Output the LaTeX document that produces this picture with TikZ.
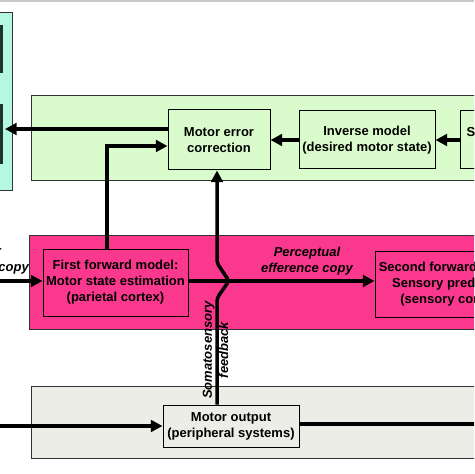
\documentclass[tikz,border=0pt]{standalone}
\usepackage{fontspec}
\setmainfont{Liberation Sans}
\usetikzlibrary{arrows.meta}
\definecolor{cyanpanel}{RGB}{180,248,226}
\definecolor{greenpanel}{RGB}{218,252,204}
\definecolor{pinkpanel}{RGB}{250,56,142}
\definecolor{graypanel}{RGB}{236,237,231}
\definecolor{topstrip}{RGB}{200,200,200}
\definecolor{darkbar}{RGB}{28,52,44}
\definecolor{panelline}{RGB}{50,50,50}
\newcommand{\diagfont}{\fontsize{11.1}{13.7}\selectfont}
\begin{document}
\begin{tikzpicture}[x=0.3mm, y=-0.3mm, font=\diagfont\bfseries, line join=miter,
    box/.style={draw, line width=0.3mm, align=center, inner sep=0pt},
    panel/.style={draw=panelline, line width=0.3mm},
    flow/.style={line width=1.05mm, -{Triangle[length=3.5mm, width=3.5mm]}},
    note/.style={font=\diagfont\bfseries\itshape, align=center, inner sep=0pt}]
    \useasboundingbox (0,0) rectangle (474,474);
    \clip (0,0) rectangle (474,474);
    \fill[white] (0,0) rectangle (474,474);
    \fill[topstrip] (0,0) rectangle (474,2.5);

    % Left panel
    \filldraw[panel, fill=cyanpanel] (-10,13) rectangle (12,191);
    \fill[darkbar] (-5,25) rectangle (3,73);
    \fill[darkbar] (-5,104) rectangle (3,164);

    % Green panel
    \filldraw[panel, fill=greenpanel] (31,96) rectangle (490,181);
    \node[box, fill=greenpanel, minimum width=30.6mm, minimum height=18mm] (err) at (219,140) {Motor error\\correction};
    \node[box, fill=greenpanel, minimum width=40.8mm, minimum height=17.4mm] (inv) at (367,140) {Inverse model\\(desired motor state)};
    \node[box, fill=greenpanel, anchor=west, align=left, text width=37.2mm, inner xsep=1.8mm, minimum height=17.4mm] (goal) at (460,140) {Sensory goal\\\mbox{}};

    % Pink panel
    \filldraw[panel, fill=pinkpanel] (29,235) rectangle (490,329);
    \node[box, minimum width=43.5mm, minimum height=20.1mm] (ffm) at (115.5,282.5) {First forward model:\\Motor state estimation\\(parietal cortex)};
    \node[box, minimum width=45.6mm, minimum height=19.8mm] (sfm) at (451,284) {Second forward model:\\Sensory prediction\\(sensory cortex)};

    % Gray panel
    \filldraw[panel, fill=graypanel] (31,386) rectangle (490,458);
    \node[box, fill=graypanel, minimum width=40.8mm, minimum height=12.6mm] (mout) at (231,426) {Motor output\\(peripheral systems)};

    % Connectors
    \coordinate (cyanin) at (5,129);
    \coordinate (bend) at (107,146);
    \coordinate (feedlow) at (217,298);
    \coordinate (jump) at (229,281);
    \coordinate (feedhigh) at (217,263);
    \coordinate (effin) at (-5,281);
    \coordinate (motin) at (-5,426);
    \coordinate (motout) at (480,424);

    \draw[flow] (goal.west) -- (inv.east);
    \draw[flow] (inv.west) -- (err.east);
    \draw[flow] (err.west |- cyanin) -- (cyanin);
    \draw[flow] (ffm.north -| bend) -- (bend) -- (err.west |- bend);
    \draw[flow] (effin) -- (ffm.west |- effin);
    \draw[flow] (ffm.east |- effin) -- (sfm.west |- effin);
    \draw[flow, rounded corners=1mm] (mout.north -| feedlow) -- (feedlow) -- (jump) -- (feedhigh) -- (err.south -| feedhigh);
    \draw[flow] (motin) -- (mout.west |- motin);
    \draw[line width=1.05mm] (mout.east |- motout) -- (motout);

    % Labels
    \node[note] (percept) at (307,261) {Perceptual\\efference copy};
    \node[note] (effcopy) at (-17,260) {Motor\\efference copy};
    \node[note, rotate=90] (soma) at (215.5,350) {Somatosensory\\feedback};
\end{tikzpicture}
\end{document}
